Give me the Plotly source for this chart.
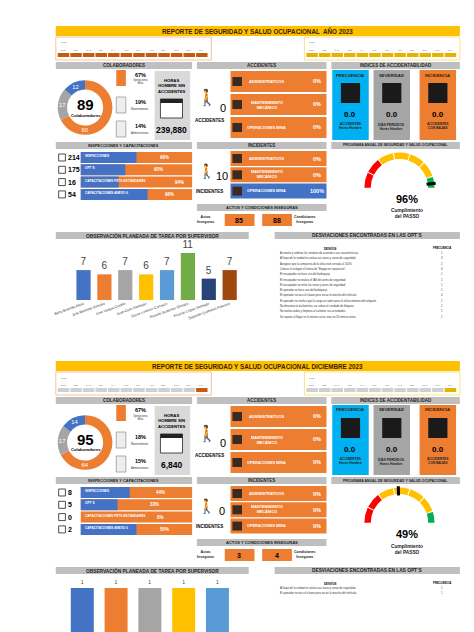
import plotly.graph_objects as go

W, H = 474, 632
FONT = "Liberation Sans"

titles = ["REPORTE DE SEGURIDAD Y SALUD OCUPACIONAL  AÑO 2023",
          "REPORTE DE SEGURIDAD Y SALUD OCUPACIONAL DICIEMBRE 2023"]
offsets = [0, 335]
months = ["ENE", "FEB", "MAR", "ABR", "MAY", "JUN", "JUL", "AGO", "SET", "OCT", "NOV", "DIC"]
months_active = [list(range(12)), [11]]

colab_labels = ["Operaciones Mina", "Mantenimiento", "Administrativos"]
colab_vals = [[60, 17, 12], [64, 17, 14]]
colab_total = [89, 95]
colab_pct = [["67%", "19%", "14%"], ["67%", "18%", "15%"]]
horas = ["239,880", "6,840"]

areas = ["ADMINISTRATIVOS", "MANTENIMIENTO<br>MECÁNICO", "OPERACIONES MINA"]
accid_total = [0, 0]
accid_pct = [[0, 0, 0], [0, 0, 0]]
incid_total = [10, 0]
incid_pct = [[0, 0, 100], [0, 0, 0]]

indices = ["FRECUENCIA", "SEVERIDAD", "INCIDENCIA"]
indices_sub = ["ACCIDENTES<br>Horas Hombre", "DÍAS PERDIDOS<br>Horas Hombre", "ACCIDENTES<br>CON BAJAS"]
indices_vals = [[0.0, 0.0, 0.0], [0.0, 0.0, 0.0]]

insp_labels = ["INSPECCIONES", "OPT´S", "CAPACITACIONES PETS-ESTÁNDARES", "CAPACITACIONES ANEXO 6"]
insp_counts = [[214, 175, 16, 54], [8, 5, 0, 2]]
insp_pct = [[96, 95, 94, 96], [44, 33, 0, 50]]
insp_blue = [[50, 40, 34, 60], [44, 33, 0, 50]]

actos = [85, 3]
condiciones = [88, 4]
passo = [96, 49]

sup_names = ["Betty Buendia Alicia", "Erik Martínez Estrada", "Jose Vargas Castillo",
             "Juan Carlo Santiago", "Oscar Lorenzo Carrasco", "Ricardo Gutierrez Chirapo",
             "Ricardo López Santiago", "Segundo Quiñones Palacios"]
sup_vals = [[7, 6, 7, 6, 7, 11, 5, 7], [1, 1, 1, 1, 1]]
bar_colors = ["#4472C4", "#ED7D31", "#A5A5A5", "#FFC000", "#5B9BD5", "#70AD47", "#264478", "#9E480E"]

desv_1 = ["Acumular y ordenar los residuos de acuerdo a sus características.",
          "Al bajar de la unidad no coloca sus tacos y conos de seguridad.",
          "Asegurar que la compuerta de la tolva esté cerrada al 100%.",
          "Colocar el eslogan el letrero de \"Equipo en reparación\".",
          "El encarpador no hace uso del barbiquejo.",
          "El encarpador no realiza el IAS del arnés de seguridad.",
          "El encarpador no retira los conos y tacos de seguridad.",
          "El operador no hace uso del barbiquejo.",
          "El operador no toca el claxon para iniciar la marcha del vehículo.",
          "El operador no verifica que la carga no sobre pase la altura máxima del volquete.",
          "No desconecta las baterías, no coloca el candado de bloqueo.",
          "No realiza orden y limpieza al culminar sus actividades.",
          "Se reporta al llegar en la misma curva, mas no 50 metros antes."]
freq_1 = [1, 3, 2, 4, 1, 1, 1, 1, 4, 1, 1, 1, 1]
desv_2 = ["Al bajar de la unidad no coloca sus tacos y conos de seguridad.",
          "El operador no toca el claxon para iniciar la marcha del vehículo."]
freq_2 = [1, 1]
desvios = [desv_1, desv_2]
freqs = [freq_1, freq_2]

ORANGE, BLUE, GRAY, HEAD = "#ED7D31", "#4472C4", "#A5A5A5", "#BFBFBF"

shapes, annots = [], []
fig = go.Figure()


def px(x):
    return x / W


def py(y):
    return 1 - y / H


def rect(x0, y0, x1, y1, fill, line=None):
    shapes.append(dict(type="rect", xref="paper", yref="paper",
                       x0=px(x0), x1=px(x1), y0=py(y1), y1=py(y0),
                       fillcolor=fill, line=dict(width=0.8 if line else 0, color=line or fill),
                       layer="below"))


def text(x, y, s, size=5, color="black", bold=True, xanchor="center"):
    annots.append(dict(x=px(x), y=py(y), xref="paper", yref="paper", text=f"<b>{s}</b>" if bold else s,
                       showarrow=False, xanchor=xanchor, yanchor="middle",
                       font=dict(size=size, color=color, family=FONT)))


def header(x0, x1, y, s, size=4.5):
    rect(x0, y, x1, y + 7, HEAD)
    text((x0 + x1) / 2, y + 3.5, s, size, "#222")


for r, off in enumerate(offsets):
    o = off
    # title and month strips
    rect(30, 18 + o, 451, 28 + o, "#FFC000")
    text(240, 23 + o, titles[r], 6.3, "#3a1c00")
    for side, (sx, col) in enumerate([(30, "#C55A11"), (289, "#E7B100")]):
        rect(sx, 29 + o, sx + 162, 52 + o, "white", "#F4B183" if side == 0 else "#FFD966")
        text(sx + 3, 35 + o, "2023", 2.5, "#777", False, "left")
        for i, m in enumerate(months):
            mx = sx + 2 + i * 13.1
            text(mx + 1, 42 + o, m, 2.3, "#777", False, "left")
            rect(mx, 45 + o, mx + 12, 49 + o, col if i in months_active[r] else "#D0D0D0")

    # colaboradores
    header(30, 172, 54 + o, "COLABORADORES")
    fig.add_trace(go.Pie(values=colab_vals[r], labels=colab_labels, hole=0.66, sort=False,
                         direction="clockwise", rotation=0, marker=dict(colors=[ORANGE, GRAY, BLUE]),
                         textinfo="value", textposition="inside", insidetextorientation="horizontal",
                         textfont=dict(size=6, color="white", family=FONT), showlegend=False,
                         domain=dict(x=[px(32), px(89)], y=[py(128 + o), py(71 + o)])))
    text(61, 96 + o, colab_total[r], 15, "black")
    text(61, 107 + o, "Colaboradores", 4.2, "black")
    for i, (yy, sub) in enumerate([(70, "Operaciones<br>Mina"), (97, "Mantenimiento"), (121, "Administrativos")]):
        rect(93, yy - 8 + o, 103, yy + 8 + o, ORANGE if i == 0 else "#EEEEEE", None if i == 0 else "#999")
        text(118, yy - 3 + o, colab_pct[r][i], 5.5)
        text(118, yy + 4 + o, sub, 2.6, "#333", False)
    rect(133, 63 + o, 170, 132 + o, "#D9D9D9")
    text(151, 78 + o, "HORAS<br>HOMBRE SIN<br>ACCIDENTES", 4.2)
    rect(139, 91 + o, 162, 110 + o, "white", "#222")
    rect(139, 91 + o, 162, 95 + o, "#222")
    text(151, 122 + o, horas[r], 8.5)

    # accidentes
    header(177, 312, 54 + o, "ACCIDENTES")
    text(188, 90 + o, "🚶", 16, "black", False)
    text(204, 100 + o, accid_total[r], 11, "black", False)
    text(190, 112 + o, "ACCIDENTES", 4.5)
    for i in range(3):
        y0 = 63 + i * 23 + o
        rect(212, y0, 312, y0 + 21, ORANGE)
        rect(214, y0 + 6, 224, y0 + 15, "#3b2a20")
        text(250, y0 + 11, areas[i], 3.8, "white")
        text(302, y0 + 10, f"{accid_pct[r][i]}%", 5.5, "white")

    # indices
    header(317, 451, 54 + o, "INDICES DE ACCIDENTABILIDAD")
    for i, (bx, col) in enumerate([(318, "#00B0F0"), (361, GRAY), (409, ORANGE)]):
        rect(bx, 62 + o, bx + 38, 132 + o, col)
        text(bx + 19, 67 + o, indices[i], 4.3, "#3a1c00" if i != 1 else "#222")
        rect(bx + 9, 75 + o, bx + 29, 95 + o, "#1a1a1a")
        text(bx + 19, 106 + o, f"{indices_vals[r][i]:.1f}", 8)
        text(bx + 19, 118 + o, indices_sub[i], 3.3, "#222")

    # inspecciones
    header(30, 172, 134 + o, "INSPECCIONES Y CAPACITACIONES", 4)
    for i in range(4):
        y0 = 144 + i * 12.3 + o
        rect(56, y0, 172, y0 + 11, ORANGE)
        bw = 116 * insp_blue[r][i] / 100
        if bw > 0:
            rect(56, y0, 56 + bw, y0 + 11, BLUE)
        text(58, y0 + 4, insp_labels[i], 3.2, "white", True, "left")
        text(56 + bw + (116 - bw) / 2 + (25 if i == 2 else 0), y0 + 5.5, f"{insp_pct[r][i]}%", 4.5, "white")
        rect(33, y0 + 2, 40, y0 + 9, "white", "#222")
        text(41, y0 + 5.5, insp_counts[r][i], 7, "black", True, "left")

    # incidentes
    header(177, 312, 134 + o, "INCIDENTES")
    text(187, 163 + o, "🚶", 14, "black", False)
    text(203, 168 + o, incid_total[r], 11, "black", False)
    text(190, 183 + o, "INCIDENTES", 4.5)
    for i in range(3):
        y0 = 143 + i * 16.3 + o
        rect(212, y0, 312, y0 + 15, BLUE if incid_pct[r][i] == 100 else ORANGE)
        rect(214, y0 + 3, 224, y0 + 12, "#3b2a20")
        text(250, y0 + 7.5, areas[i], 3.8, "white")
        text(302, y0 + 7.5, f"{incid_pct[r][i]}%", 5.5, "white")

    header(177, 312, 196 + o, "ACTOS Y CONDICIONES INSEGURAS", 4)
    text(186, 211 + o, "Actos<br>Inseguros", 3.6, "#222")
    text(290, 211 + o, "Condiciones<br>Inseguras", 3.6, "#222")
    rect(206, 206 + o, 237, 218 + o, ORANGE)
    rect(245, 206 + o, 276, 218 + o, ORANGE)
    text(221, 212 + o, actos[r], 7)
    text(260, 212 + o, condiciones[r], 7)

    # PASSO gauge
    header(317, 451, 134 + o, "PROGRAMA ANUAL DE SEGURIDAD Y SALUD OCUPACIONAL", 3.5)
    fig.add_trace(go.Indicator(
        mode="gauge", value=passo[r],
        domain=dict(x=[px(350), px(426)], y=[py(180 + o), py(143 + o)]),
        gauge=dict(axis=dict(range=[0, 100], visible=False), shape="angular",
                   bar=dict(color="rgba(0,0,0,0)", thickness=0),
                   bgcolor="white", borderwidth=0,
                   steps=[dict(range=[0, 14], color="#FF0000", thickness=0.7), dict(range=[15, 29], color="#FF0000", thickness=0.7),
                          dict(range=[30, 44], color="#FFC000", thickness=0.7), dict(range=[45, 59], color="#FFC000", thickness=0.7),
                          dict(range=[60, 74], color="#FFC000", thickness=0.7), dict(range=[75, 89], color="#FFC000", thickness=0.7),
                          dict(range=[90, 100], color="#00B050", thickness=0.7)],
                   threshold=dict(line=dict(color="black", width=3), thickness=1, value=passo[r]))))
    text(396, 191 + o, f"{passo[r]}%", 11)
    text(396, 206 + o, "Cumplimiento<br>del PASSO", 4.8, "#222")

    # supervisor bars
    header(30, 231, 224 + o, "OBSERVACIÓN PLANEADA DE TAREA POR SUPERVISOR", 4.8)
    header(258, 451, 224 + o, "DESVIACIONES ENCONTRADAS EN LAS OPT´S", 4.8)
    vals = sup_vals[r]
    ax = "" if r == 0 else "2"
    fig.add_trace(go.Bar(x=sup_names[:len(vals)], y=vals, marker=dict(color=bar_colors[:len(vals)],
                         line=dict(width=0)), text=vals, textposition="outside",
                         textfont=dict(size=10 if r == 0 else 5, color="#444", family=FONT),
                         cliponaxis=False, width=0.68, showlegend=False,
                         xaxis="x" + ax, yaxis="y" + ax))

    # deviations table
    text(316, 240 + o, "DESVÍOS", 2.8)
    text(432, 240 + o, "FRECUENCIA", 2.8)
    for i, (d, f) in enumerate(zip(desvios[r], freqs[r])):
        yy = 245 + i * 5.3 + o
        text(262, yy, d, 2.7, "#333", False, "left")
        text(432, yy, f, 2.7, "#333", False)

fig.update_layout(
    width=W, height=H, margin=dict(l=0, r=0, t=0, b=0), paper_bgcolor="white", plot_bgcolor="white",
    shapes=shapes, annotations=annots, bargap=0.3,
    xaxis=dict(domain=[px(48), px(222)], showgrid=False, tickangle=-20,
               tickfont=dict(size=3.5, family=FONT, color="#333"), showline=False),
    yaxis=dict(domain=[py(292), py(245)], range=[0, 11], visible=False),
    xaxis2=dict(domain=[px(40), px(216)], showgrid=False, showticklabels=False, anchor="y2"),
    yaxis2=dict(domain=[0, py(580)], range=[0.15, 1], visible=False, anchor="x2"),
)
fig.write_html("out.html")
